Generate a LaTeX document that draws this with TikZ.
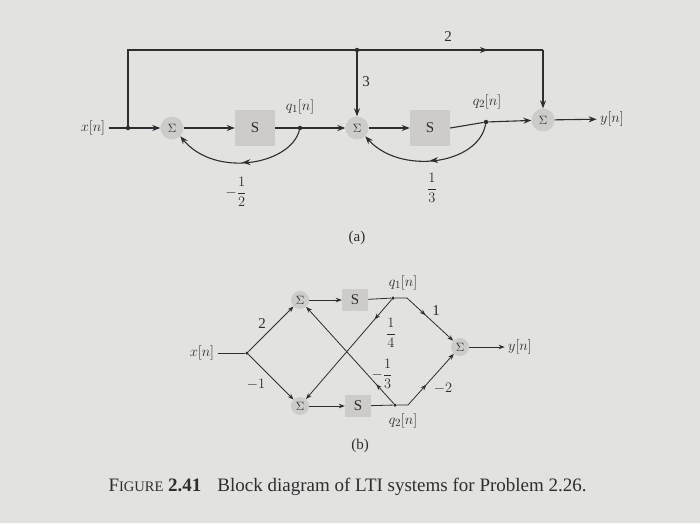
\documentclass[tikz,border=0pt]{standalone}
\usepackage{amsmath}
\usepackage{fontspec}
\setmainfont{Liberation Serif}
\usetikzlibrary{arrows.meta,decorations.markings}
\definecolor{paper}{RGB}{226,226,222}
\definecolor{blk}{RGB}{205,204,202}
\definecolor{ink}{RGB}{45,45,50}
\begin{document}
\begin{tikzpicture}[x=1pt,y=-1pt,
  sumnode/.style={circle,fill=blk,minimum size=23pt,inner sep=0pt,font=\fontsize{13}{14}\selectfont,text=ink},
  sbox/.style={rectangle,fill=blk,minimum width=40pt,minimum height=36pt,font=\fontsize{15}{16}\selectfont,text=ink},
  sboxb/.style={rectangle,fill=blk,minimum width=26pt,minimum height=22pt,font=\fontsize{15}{16}\selectfont,text=ink},
  sumb/.style={circle,fill=blk,minimum size=18pt,inner sep=0pt,font=\fontsize{13}{14}\selectfont,text=ink},
  dot/.style={circle,fill=ink,minimum size=4.5pt,inner sep=0pt},
  lbl/.style={font=\fontsize{15}{17}\selectfont,text=ink},
  wire/.style={draw=ink,line width=1.1pt},
  arr/.style={wire,-{Stealth[length=8pt,width=6pt]}},
  warr/.style={draw=ink,line width=0.8pt,-{Stealth[length=6pt,width=4.5pt]}},
  wthin/.style={draw=ink,line width=0.8pt},
  midarr/.style={draw=ink,line width=0.8pt,postaction={decorate},decoration={markings,mark=at position #1 with {\arrow{Stealth[length=6pt,width=4.5pt]}}}},
  midarrA/.style={wire,postaction={decorate},decoration={markings,mark=at position #1 with {\arrow{Stealth[length=8pt,width=6pt]}}}}
]
\fill[paper] (0,0) rectangle (700,523);
\useasboundingbox (0,0) rectangle (700,523);
% ---------- (a)
\node[lbl] (x) at (93,128) {$x[n]$};
\node[dot] (j1) at (128,128) {};
\node[sumnode] (s1) at (172,128) {$\Sigma$};
\node[sbox] (S1) at (255,128) {S};
\node[dot] (q1) at (300,128) {};
\node[lbl] at (300,107) {$q_1[n]$};
\node[sumnode] (s2) at (357,128) {$\Sigma$};
\node[dot] (t) at (357,50) {};
\coordinate (tl) at (128,50);
\coordinate (tr) at (543,50);
\node[sbox] (S2) at (430,128) {S};
\node[dot] (q2) at (486,122) {};
\node[lbl] at (487,102) {$q_2[n]$};
\node[sumnode] (s3) at (543,120) {$\Sigma$};
\node[lbl] (y) at (612,119) {$y[n]$};

\draw[wire] (x) -- (j1);
\draw[arr] (j1) -- (s1);
\draw[arr] (s1) -- (S1);
\draw[wire] (S1) -- (q1);
\draw[arr] (q1) -- (s2);
\draw[arr] (s2) -- (S2);
\draw[wire] (S2.east) -- (q2);
\draw[arr] (q2) -- (s3);
\draw[arr] (s3) -- (y);
\draw[wire] (j1) -- (tl) -- (t);
\draw[midarrA=0.7] (t) -- (tr);
\draw[arr] (tr) -- (s3);
\draw[arr] (t) -- (s2);
\node[lbl] at (366,82) {3};
\node[lbl] at (448,37) {2};
\draw[midarrA=0.5,-{Stealth[length=8pt,width=6pt]}] (q1) .. controls (290,165) and (215,178) .. (s1.south east);
\draw[midarrA=0.5,-{Stealth[length=8pt,width=6pt]}] (q2) .. controls (478,165) and (400,175) .. (s2.south east);
\node[lbl] at (236,192) {$-\dfrac{1}{2}$};
\node[lbl] at (432,188) {$\dfrac{1}{3}$};
\node[lbl] at (357,238) {(a)};
% ---------- (b)
\node[lbl] (xb) at (202,353) {$x[n]$};
\node[dot,minimum size=3.5pt] (jb) at (247,353) {};
\node[sumb] (bt) at (300,300) {$\Sigma$};
\node[sboxb] (St) at (355,300) {S};
\node[dot,minimum size=3.5pt] (p1) at (393,298) {};
\coordinate (k1) at (407,298);
\node[sumb] (bo) at (460,347) {$\Sigma$};
\node[lbl] (yb) at (520,347) {$y[n]$};
\node[sumb] (bb) at (300,406) {$\Sigma$};
\node[sboxb] (Sb) at (358,406) {S};
\node[dot,minimum size=3.5pt] (p2) at (395,405) {};
\coordinate (k2) at (408,405);
\node[lbl] at (403,283) {$q_1[n]$};
\node[lbl] at (403,421) {$q_2[n]$};

\draw[wthin] (xb) -- (jb);
\draw[warr] (jb) -- (bt);
\draw[warr] (jb) -- (bb);
\draw[warr] (bt) -- (St);
\draw[warr] (bb) -- (Sb);
\draw[wthin] (St) -- (p1) -- (k1);
\draw[wthin] (Sb) -- (p2) -- (k2);
\draw[midarr=0.4,-{Stealth[length=6pt,width=4.5pt]}] (k1) -- (bo);
\draw[midarr=0.4,-{Stealth[length=6pt,width=4.5pt]}] (k2) -- (bo);
\draw[warr] (bo) -- (yb);
\draw[midarr=0.2,-{Stealth[length=6pt,width=4.5pt]}] (p1) -- (bb);
\draw[midarr=0.2,-{Stealth[length=6pt,width=4.5pt]}] (p2) -- (bt);
\node[lbl] at (262,324) {2};
\node[lbl] at (256,384) {$-1$};
\node[lbl] at (436,311) {1};
\node[lbl] at (391,333) {$\dfrac{1}{4}$};
\node[lbl] at (382,374) {$-\dfrac{1}{3}$};
\node[lbl] at (443,388) {$-2$};
\node[lbl] at (360,446) {(b)};
% ---------- caption
\node[anchor=west,text=ink,font=\fontsize{19}{22}\selectfont] (cap) at (105,487) {F{\fontsize{14.5}{16}\selectfont IGURE} \textbf{2.41}\hspace{16pt}Block diagram of LTI systems for Problem 2.26.};
\end{tikzpicture}
\end{document}
